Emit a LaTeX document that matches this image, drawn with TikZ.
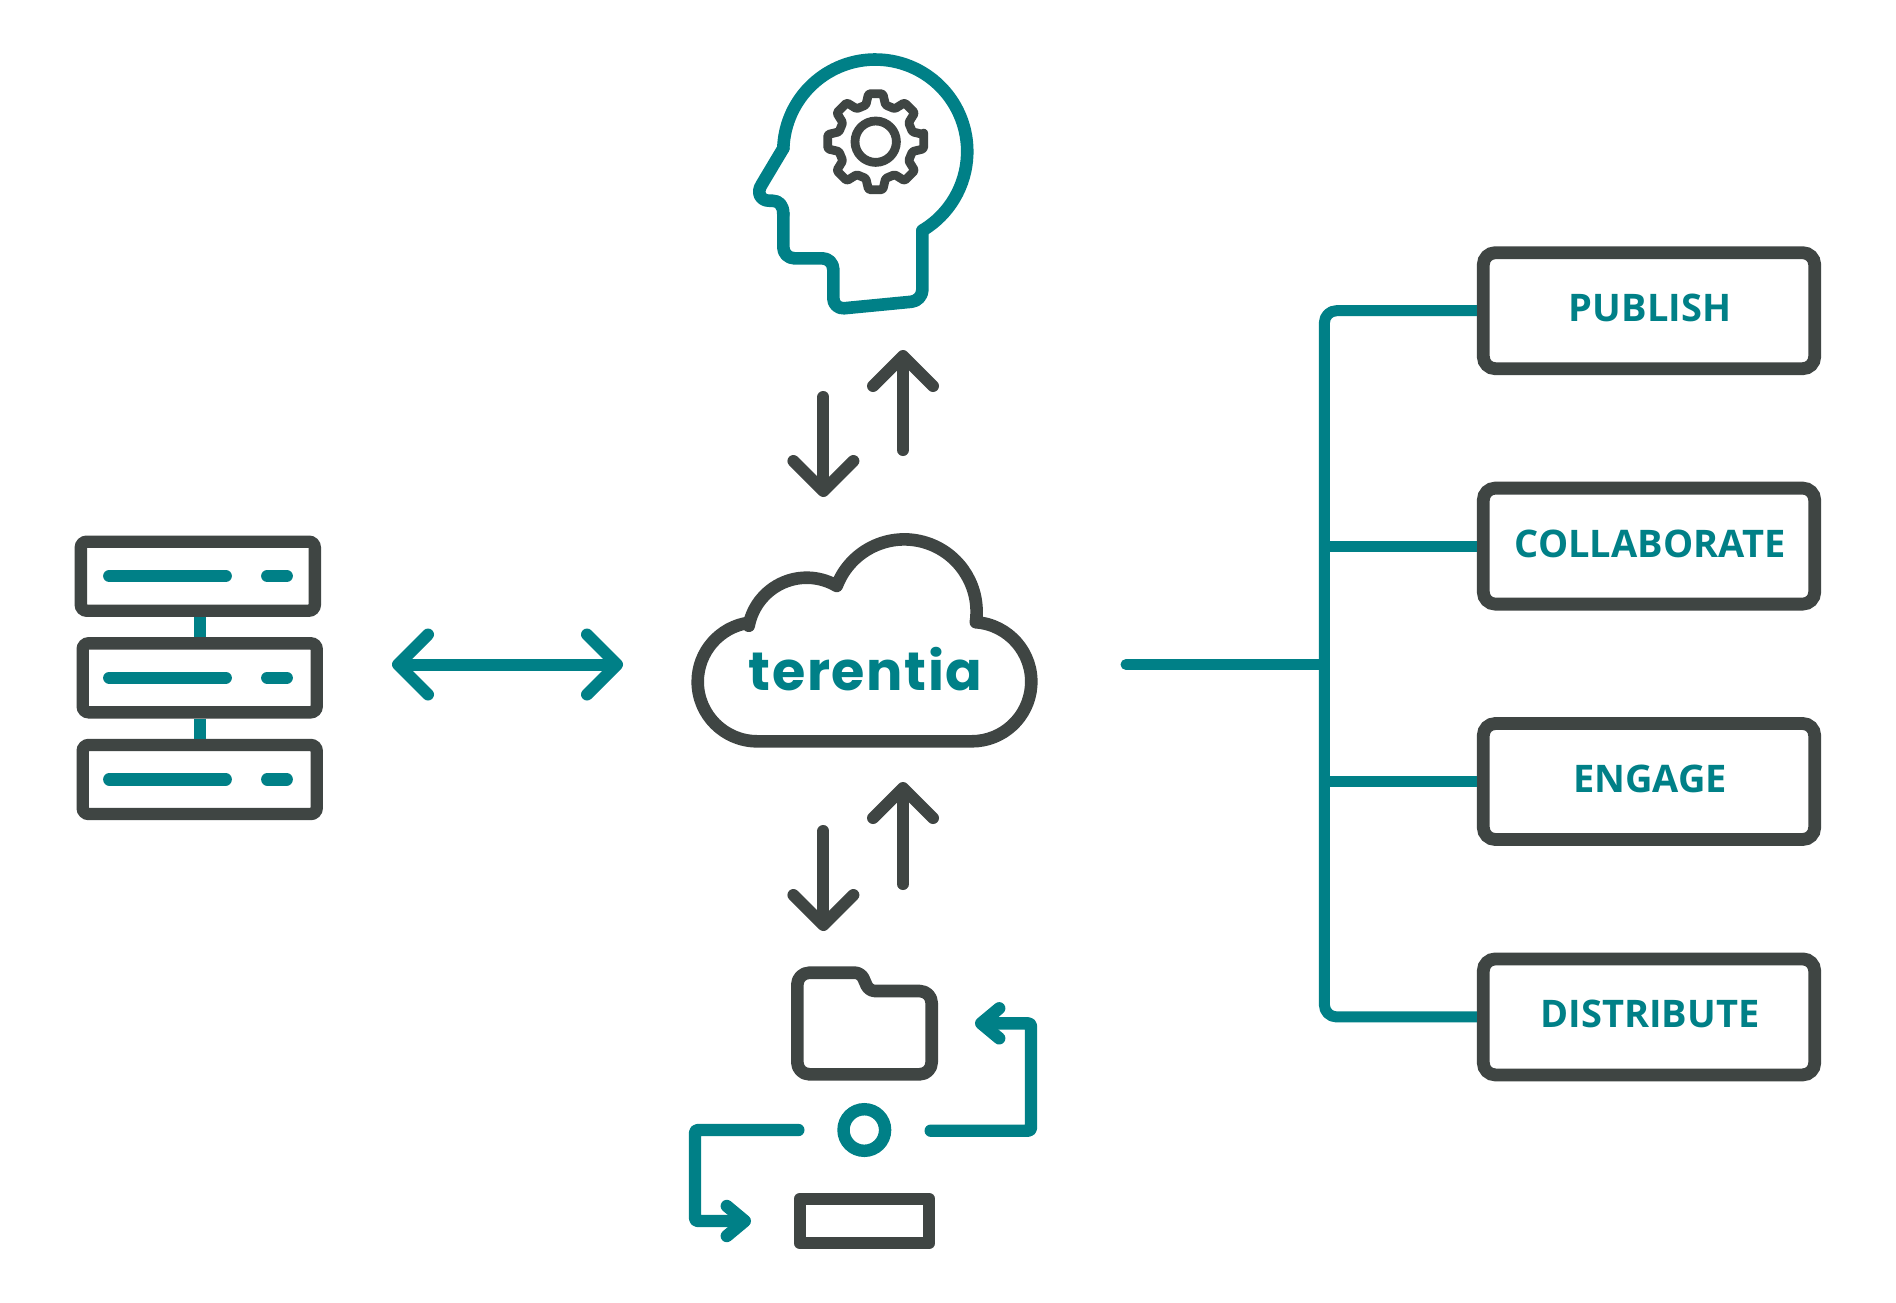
\documentclass[tikz,border=0pt]{standalone}
\usepackage{fontspec}
\setmainfont{Open Sans}
\newfontfamily\logofont{Poppins}
\usetikzlibrary{arrows.meta}
\definecolor{teal0}{HTML}{008087}
\definecolor{dark0}{HTML}{3F4543}
\tikzset{
  tealline/.style={draw=teal0,line width=6.3pt,line join=round,line cap=round},
  darkline/.style={draw=dark0,line width=6.3pt,line join=round,line cap=round},
  barbhead/.style={-{Straight Barb[length=15pt,width=30pt,round]}},
  dbarbhead/.style={{Straight Barb[length=15pt,width=30pt,round]}-{Straight Barb[length=15pt,width=30pt,round]}},
  flowarrow/.style={draw=dark0,line width=6pt,line cap=round,barbhead},
  syncarrow/.style={draw=teal0,line width=6pt,line cap=round,dbarbhead},
  smallhead/.style={-{Straight Barb[length=9pt,width=15pt,round]}},
  loopline/.style={draw=teal0,line width=6.2pt,line join=round,line cap=round,rounded corners=1.5pt,smallhead},
  actionbox/.style={draw=dark0,line width=6.4pt,fill=white,rounded corners=6pt,minimum width=165.7pt,minimum height=58pt,inner sep=0pt},
  actionlabel/.style={text=teal0,font=\fontsize{19}{19}\selectfont\bfseries,inner sep=0pt,anchor=center},
  serverbox/.style={draw=dark0,line width=6.2pt,fill=white,rounded corners=3pt,minimum width=117pt,minimum height=34.5pt,inner sep=0pt},
  serverbar/.style={draw=teal0,line width=6.2pt,line cap=round},
  servlink/.style={draw=teal0,line width=6.2pt},
  treeline/.style={draw=teal0,line width=5.5pt,line join=round},
  stemline/.style={draw=teal0,line width=5.5pt,line cap=round},
}
\begin{document}
\begin{tikzpicture}[x=0.5pt,y=-0.5pt]
\useasboundingbox[fill=white] (0,0) rectangle (1896,1302);

% head
\draw[tealline] (783.3,148.3) arc[start angle=182,end angle=419,radius=92];
\draw[tealline,rounded corners=5.5pt] (922.4,230.6)
  -- (922.4,300.7) -- (833.3,309.3) -- (833.3,258.3) -- (783.3,258.3) -- (783.3,214);
\draw[tealline] (783.3,214) .. controls (783.3,205) and (779,200.7) .. (772,200.7)
  -- (769,200.7) .. controls (761,200.7) and (756,193) .. (761.7,184.5) -- (783.3,148.3);
% gear
\begin{scope}[shift={(875.7,141.7)}]
  \draw[darkline,line width=4.4pt,rounded corners=0.7pt]
    (-8.5:48.5) \foreach \a in {0,45,...,315} { -- (\a-8.5:48.5) -- (\a+8.5:48.5) -- (\a+15:38) -- (\a+30:38) } -- cycle;
  \draw[darkline,line width=4.4pt] (0,0) circle[radius=20.7];
\end{scope}

% cloud
\draw[darkline] (757.3,741.3) arc[start angle=90,end angle=262,radius=59.6]
  -- ([shift={(806.7,636.7)}]190.7:59) arc[start angle=190.7,end angle=300.6,radius=59]
  -- ([shift={(904.3,611.7)}]201:72.3) arc[start angle=201,end angle=368,radius=72.3]
  -- ([shift={(971.7,681.7)}]274:59.6) arc[start angle=274,end angle=450,radius=59.6]
  -- cycle;
\node[text=teal0,inner sep=0pt,anchor=base] (logo) at (865.5,690) {\logofont\fontsize{27}{27}\selectfont\bfseries\addfontfeature{LetterSpace=3}terentia};

% arrows top
\coordinate (hd1) at (823.4,397);
\coordinate (hd2) at (823.4,497);
\coordinate (hu1) at (903,450);
\coordinate (hu2) at (903,350);
\draw[flowarrow] (hd1) -- (hd2);
\draw[flowarrow] (hu1) -- (hu2);
% arrows bottom
\coordinate (fd1) at (823.4,831);
\coordinate (fd2) at (823.4,931);
\coordinate (fu1) at (903,884);
\coordinate (fu2) at (903,782);
\draw[flowarrow] (fd1) -- (fd2);
\draw[flowarrow] (fu1) -- (fu2);
% server arrow
\coordinate (sa) at (392,664.5);
\coordinate (sb) at (623,664.5);
\draw[syncarrow] (sa) -- (sb);

% server
\node[serverbox] (s1) at (197.8,576.2) {};
\node[serverbox] (s2) at (199.7,677.8) {};
\node[serverbox] (s3) at (199.7,779.5) {};
\draw[servlink] (s2.north |- s1.south) -- (s2.north);
\draw[servlink] (s2.south) -- (s3.north);
\foreach \n/\y in {a/576,b/677.7,c/779.3}{
  \draw[serverbar] (109.3,\y) -- (225.7,\y);
  \draw[serverbar] (267.3,\y) -- (286.7,\y);
}

% action boxes
\node[actionbox] (b1) at (1649,310.7) {};
\node[actionbox] (b2) at (1649,546.1) {};
\node[actionbox] (b3) at (1649,781.5) {};
\node[actionbox] (b4) at (1649,1016.9) {};
\node[actionlabel] (t1) at (1650,308) {PUBLISH};
\node[actionlabel] (t2) at (1650,543.4) {COLLABORATE};
\node[actionlabel] (t3) at (1650,778.8) {ENGAGE};
\node[actionlabel] (t4) at (1650,1014.2) {DISTRIBUTE};
\coordinate (spine) at (1324.4,664.5);
\coordinate (stem) at (1126,664.5);
\draw[treeline,rounded corners=6pt] (b1.west) -| (spine) |- (b4.west);
\draw[treeline] (b2.west) -- (b2.west -| spine);
\draw[treeline] (b3.west) -- (b3.west -| spine);
\draw[stemline] (stem) -- (spine);

% folder
\draw[darkline] (797.3,1030) [rounded corners=6pt] -- (797.3,972.7) [rounded corners=3pt] -- (861,972.7) -- (869,991) [rounded corners=6pt] -- (931.7,991) -- (931.7,1074.3) -- (797.3,1074.3) -- cycle;
\node[draw=teal0,line width=6.2pt,circle,minimum size=20.8pt,inner sep=0pt] (hub) at (864.3,1130) {};
\node[draw=dark0,line width=6.2pt,line join=round,minimum width=64.5pt,minimum height=22.2pt,inner sep=0pt] (doc) at (864.5,1221) {};
\coordinate (l1) at (798.3,1130);
\coordinate (l2) at (695,1221);
\coordinate (l3) at (751,1221);
\coordinate (r1) at (930.7,1130.7);
\coordinate (r2) at (1031,1023.3);
\coordinate (r3) at (975,1023.3);
\draw[loopline] (l1) -| (l2) -- (l3);
\draw[loopline] (r1) -| (r2) -- (r3);
\end{tikzpicture}
\end{document}
